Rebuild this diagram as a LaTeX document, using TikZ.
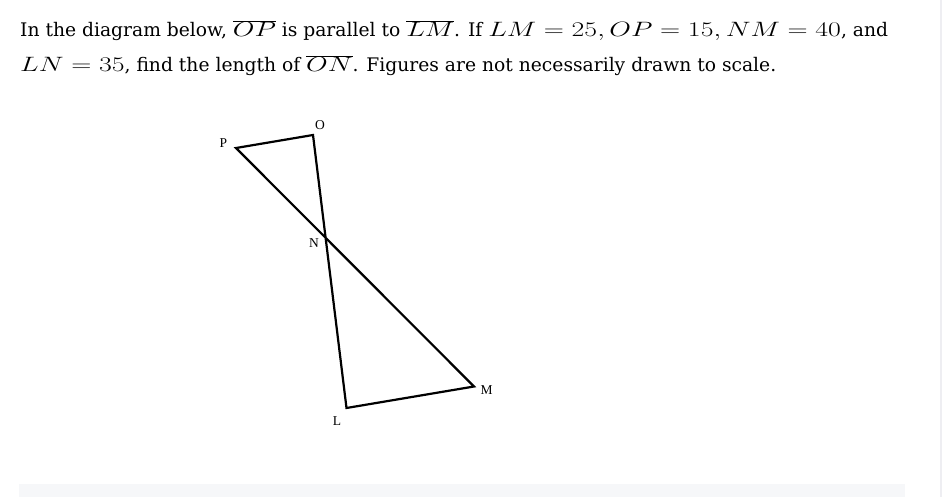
\documentclass[tikz,border=0pt]{standalone}
\usepackage{fix-cm}
\usepackage{graphicx}
\usepackage{fontspec}
\setmainfont{DejaVu Serif}
\newfontfamily\labelfont{Liberation Serif}
\newcommand{\widemath}[1]{\scalebox{1.34}[1]{\fontsize{20.8}{24}\selectfont$#1$}}
\begin{document}
\begin{tikzpicture}[x=1pt,y=-1pt,
  side/.style={line width=2.2pt,line join=miter},
  vertex label/.style={font=\labelfont\fontsize{13.5}{14}\selectfont,inner sep=0pt},
  prompt line/.style={anchor=base west,inner sep=0pt,font=\fontsize{18.7}{24}\selectfont}]
  \useasboundingbox (0,0) rectangle (945,497);
  \fill[fill={rgb,255:red,246;green,247;blue,249}] (19,484) rectangle (905,497);
  \draw[line width=1.5pt,color={rgb,255:red,238;green,238;blue,242}] (941,0) -- (941,497);

  \node[prompt line] at (20,37) (line1) {In the diagram below, \widemath{\overline{OP}} is parallel to \widemath{\overline{LM}}. If \widemath{LM=25, OP=15, NM=40}, and};
  \node[prompt line] at (20,72) (line2) {\widemath{LN=35}, find the length of \widemath{\overline{ON}}. Figures are not necessarily drawn to scale.};

  \coordinate (P) at (236,148);
  \coordinate (O) at (313,135);
  \coordinate (M) at (474,386.5);
  \coordinate (L) at (346.5,408);
  \coordinate (N) at (intersection of P--M and O--L);

  \draw[side] (P) -- (O) -- (L) -- (M) -- cycle;

  \node[vertex label] at (223.5,143.5) (p) {P};
  \node[vertex label] at (320,125) (o) {O};
  \node[vertex label] at (314,243) (n) {N};
  \node[vertex label] at (486.5,390) (m) {M};
  \node[vertex label] at (337,421) (l) {L};
\end{tikzpicture}
\end{document}
